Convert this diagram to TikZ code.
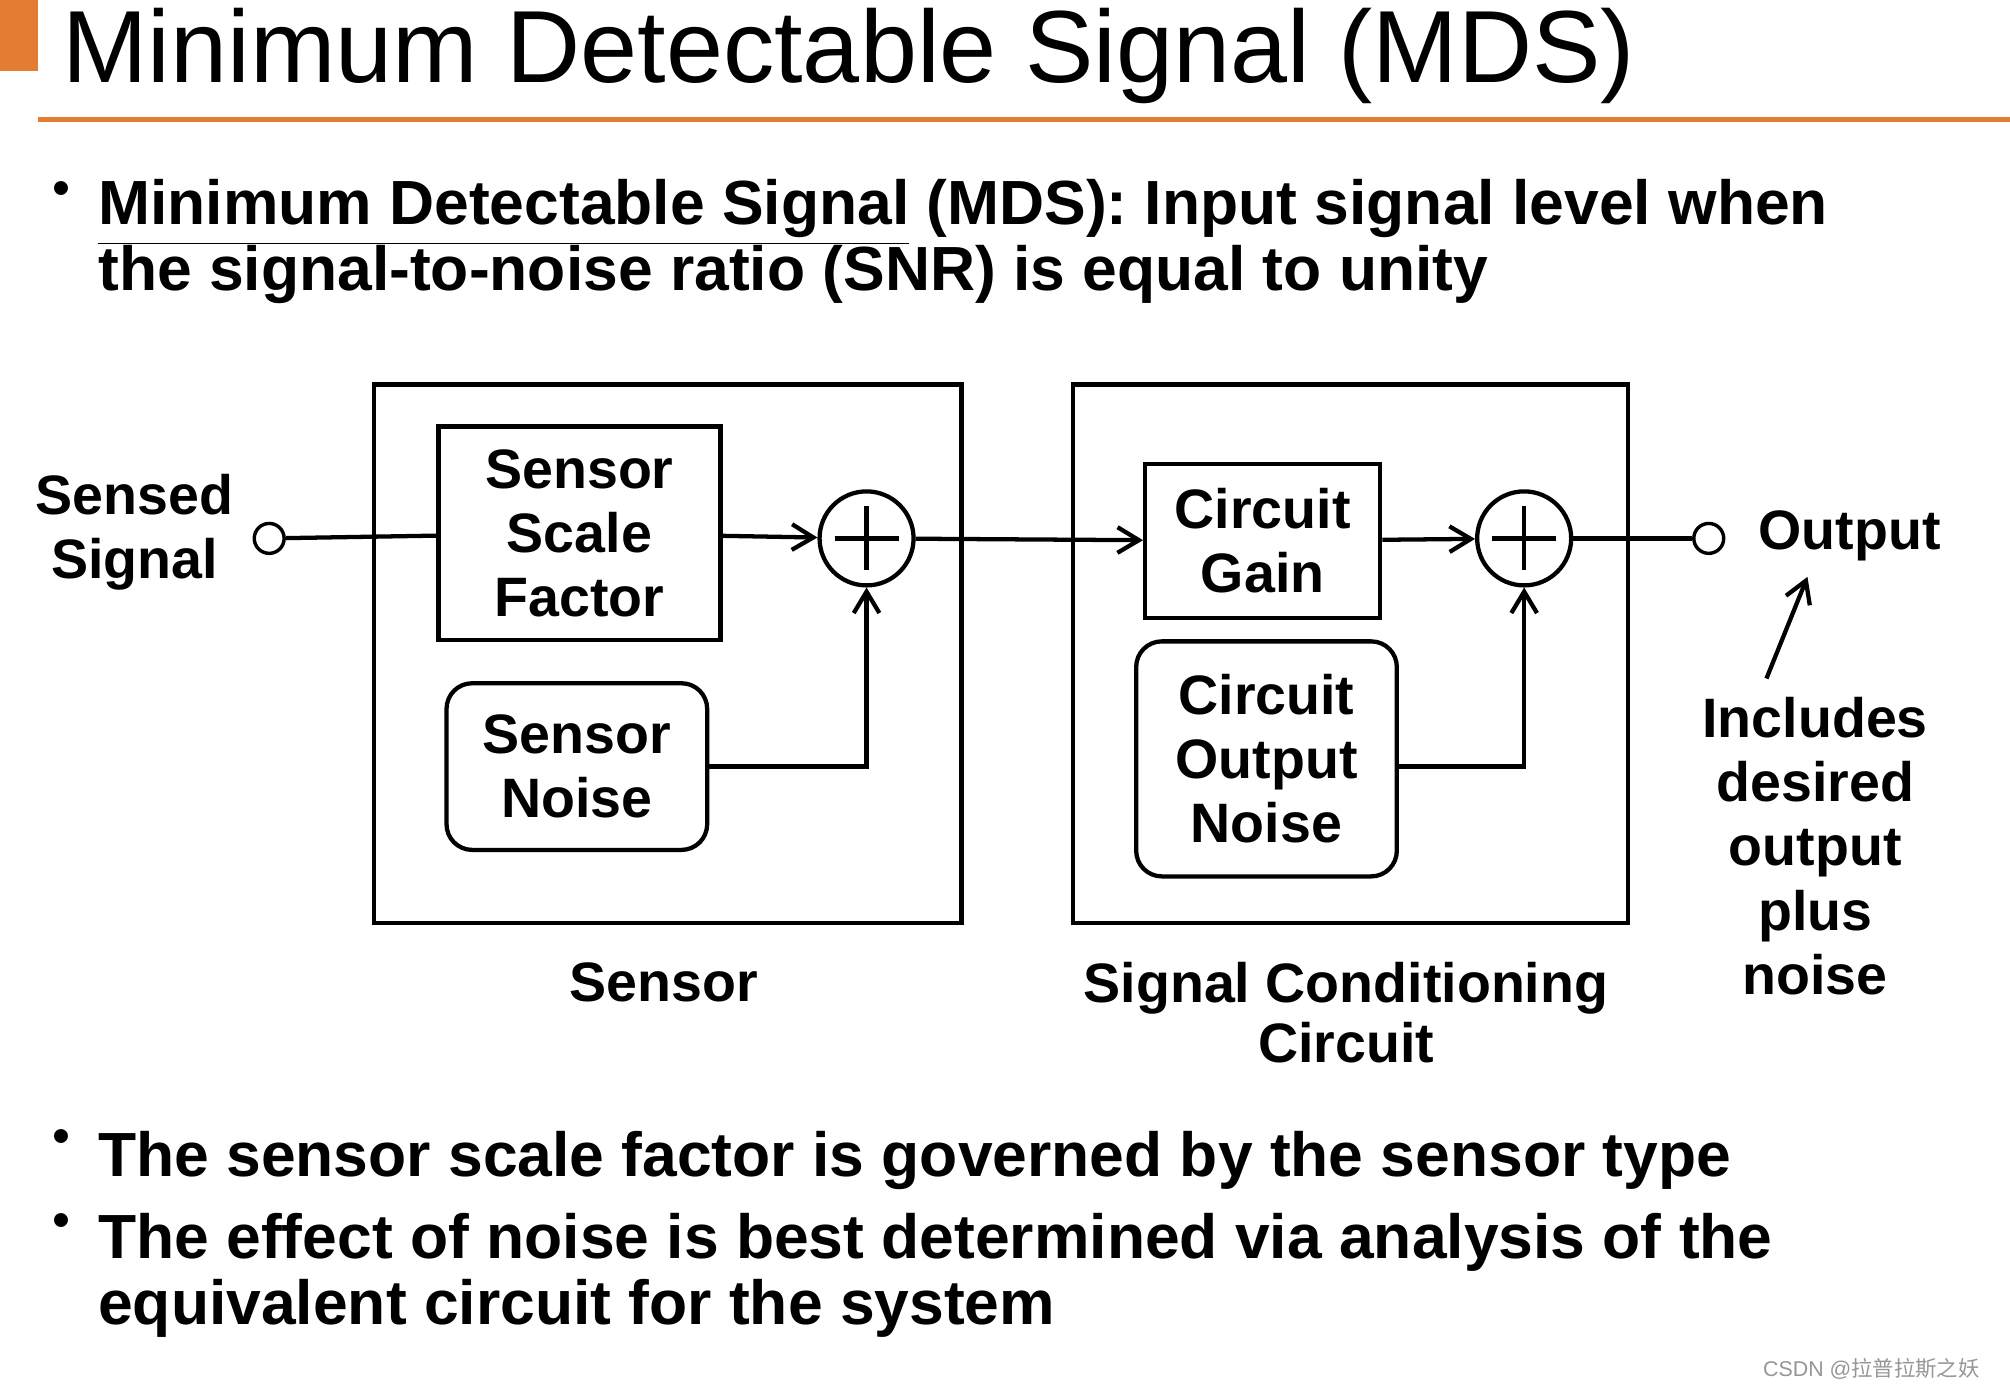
\documentclass[tikz,border=0pt]{standalone}
\usepackage{fontspec}
\setmainfont{Liberation Sans}
\newfontfamily\cjk{Noto Sans CJK SC}
\usetikzlibrary{arrows.meta}
\definecolor{mdsorange}{RGB}{228,124,52}
\definecolor{mdsgray}{RGB}{150,150,150}
\begin{document}
\begin{tikzpicture}[x=0.3pt,y=-0.3pt
,blk/.style={draw,line width=1pt,align=center,font=\fontsize{13}{15}\selectfont\bfseries,inner sep=0pt}
,rblk/.style={blk,rounded corners=6pt}
,sum/.style={draw,circle,line width=1pt,minimum size=22pt,inner sep=0pt,
  path picture={\draw[line width=1pt] ([xshift=-7.5pt]path picture bounding box.center) -- ([xshift=7.5pt]path picture bounding box.center)
  ([yshift=-7.5pt]path picture bounding box.center) -- ([yshift=7.5pt]path picture bounding box.center);}}
,port/.style={draw,circle,line width=0.8pt,minimum size=7pt,inner sep=0pt,fill=white}
,lbl/.style={align=center,font=\fontsize{13}{15}\selectfont\bfseries}
,txt/.style={anchor=base west,font=\fontsize{14.6}{17}\selectfont\bfseries,inner sep=0pt}
,wire/.style={line width=1pt}
,arr/.style={wire,-{Straight Barb[length=5pt,width=6pt]}}
]
\useasboundingbox (0,0) rectangle (1568,1083);
% title
\fill[mdsorange] (0,0) rectangle (30,55);
\node (title) [anchor=base west,inner sep=0pt,font=\fontsize{24}{28}\selectfont] at (48,64) {Minimum Detectable Signal (MDS)};
\draw[mdsorange,line width=1.2pt] (30,93) -- (1568,93);
% first bullet
\node (b1) [anchor=base,font=\fontsize{12}{14}\selectfont] at (48,160) {\textbullet};
\node (t1) [txt] at (76,175) {\underline{Minimum Detectable Signal} (MDS): Input signal level when};
\node (t2) [txt] at (76,227) {the signal-to-noise ratio (SNR) is equal to unity};
% frames
\draw[line width=1pt] (292,300) rectangle (750,720);
\draw[line width=1pt] (837,300) rectangle (1270,720);
\node (sensor) [lbl] at (518,766) {Sensor};
\node (cond) [lbl] at (1050,790) {Signal Conditioning\\[-1pt]Circuit};
% blocks
\node (ssf) [blk,minimum width=66pt,minimum height=50pt] at (452,416) {Sensor\\Scale\\Factor};
\node (snoise) [rblk,minimum width=61pt,minimum height=39pt] at (450,598) {Sensor\\Noise};
\node (sum1) [sum] at (676,420) {};
\node (gain) [blk,minimum width=55pt,minimum height=36pt] at (985,422) {Circuit\\Gain};
\node (cnoise) [rblk,minimum width=61pt,minimum height=55pt] at (988,592) {Circuit\\Output\\Noise};
\node (sum2) [sum] at (1189,420) {};
\node (in) [port] at (210,420) {};
\node (out) [port] at (1333,420) {};
\node (insig) [lbl] at (105,415) {Sensed\\Signal};
\node (outsig) [lbl,anchor=west] at (1360,418) {Output};
\node (incl) [lbl] at (1416,660) {Includes\\desired\\output\\plus\\noise};
% connectors
\draw[wire] (in) -- (ssf);
\draw[arr] (ssf) -- (sum1);
\draw[arr] (snoise.east) -| (sum1);
\draw[arr] (sum1) -- (gain);
\draw[arr] (gain) -- (sum2);
\draw[arr] ([yshift=-1.8pt]cnoise.east) -| (sum2);
\draw[wire] (sum2) -- (out);
\draw[arr] (incl.north) ++(-38,-3) -- (1410,450);
% lower bullets
\node (b2) [anchor=base,font=\fontsize{12}{14}\selectfont] at (48,900) {\textbullet};
\node (t3) [txt] at (76,918) {The sensor scale factor is governed by the sensor type};
\node (b3) [anchor=base,font=\fontsize{12}{14}\selectfont] at (48,965) {\textbullet};
\node (t4) [txt] at (76,982) {The effect of noise is best determined via analysis of the};
\node (t5) [txt] at (76,1033) {equivalent circuit for the system};
\node (mark) [anchor=base east,text=mdsgray,font=\fontsize{5}{6}\selectfont] at (1556,1074) {CSDN @{\cjk 拉普拉斯之妖}};
\end{tikzpicture}
\end{document}
